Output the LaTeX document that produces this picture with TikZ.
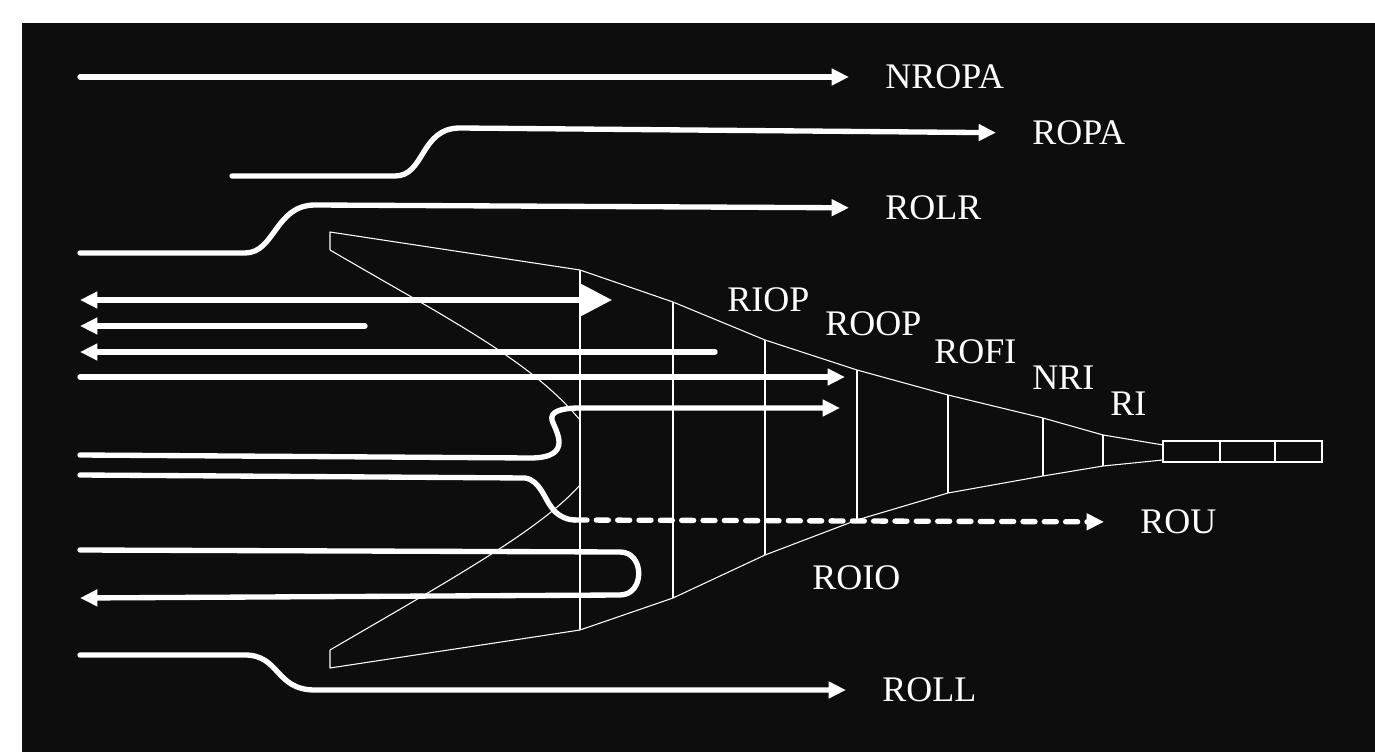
\documentclass[tikz,border=0pt]{standalone}
\usepackage{fontspec}
\setmainfont{Liberation Serif}
\usetikzlibrary{arrows.meta}
\begin{document}
\begin{tikzpicture}[x=0.75pt,y=-0.75pt,
  flow/.style={white,line width=4pt,line cap=round,line join=round,-{Triangle[length=13pt,width=12pt]}},
  flowb/.style={white,line width=4pt,line cap=round,line join=round},
  thin/.style={white,line width=0.8pt},
  lab/.style={white,font=\fontsize{27}{30}\selectfont,anchor=west,inner sep=0pt},
  tol/.style={shorten >=27pt}]
\useasboundingbox (0,0) rectangle (1375,752);
\fill[white] (0,0) rectangle (1375,752);
\fill[black!95] (22,23) rectangle (1375,752);
% funnel
\draw[thin,line join=round] (330,250) -- (330,232) -- (580,270) -- (673,302) -- (765,340) -- (857,370) -- (948,395) -- (1043,418) -- (1103,435) -- (1163,445)
  -- (1163,460) -- (1103,466) -- (1043,476) -- (948,493) -- (857,520) -- (765,555) -- (673,598) -- (580,630) -- (330,668) -- (330,650);
\draw[thin] (330,250) .. controls (450,320) and (530,360) .. (580,420);
\draw[thin] (330,650) .. controls (450,580) and (540,530) .. (580,485);
\foreach \x/\a/\b in {580/270/630,673/302/598,765/340/555,857/370/520,948/395/493,1043/418/476,1103/435/466}
  \draw[thin] (\x,\a) -- (\x,\b);
\draw[thin] (1163,441) rectangle (1322,462);
\draw[thin] (1220,441) -- (1220,462) (1275,441) -- (1275,462);
% labels
\node[lab] (nropa) at (885,77) {NROPA};
\node[lab] (ropa) at (1032,133) {ROPA};
\node[lab] (rolr) at (885,208) {ROLR};
\node[lab] (roll) at (882,690) {ROLL};
\node[lab] (rou) at (1140,522) {ROU};
\node[lab] at (727,300) {RIOP};
\node[lab] at (825,324) {ROOP};
\node[lab] at (934,352) {ROFI};
\node[lab] at (1032,378) {NRI};
\node[lab] at (1110,404) {RI};
\node[lab] at (812,578) {ROIO};
% flows
\coordinate (a1) at (80,77);
\draw[flow,tol] (a1) -- (nropa.west);
\draw[flow,tol] (232,176) -- (395,176) .. controls (425,176) and (420,128) .. (460,128) -- (ropa.west);
\draw[flow,tol] (80,253) -- (245,253) .. controls (275,253) and (275,205) .. (315,205) -- (rolr.west);
\draw[flowb,{Triangle[length=13pt,width=12pt]}-{Triangle[length=24pt,width=24pt]}] (80,300) -- (612,300);
\draw[flow] (365,326) -- (80,326);
\draw[flow] (715,352) -- (80,352);
\draw[flow] (80,377) -- (845,377);
\draw[flow] (80,455) -- (530,458) .. controls (575,458) and (555,430) .. (552,420) .. controls (550,412) and (560,408) .. (580,408) -- (840,408);
\draw[flowb] (80,475) -- (525,478) .. controls (540,480) and (545,500) .. (552,508) .. controls (556,514) and (565,520) .. (575,520);
\draw[flow,dash pattern=on 9pt off 7pt,tol] (575,520) -- (rou.west);
\draw[flow] (80,550) -- (620,552) .. controls (645,552) and (645,595) .. (620,595) -- (80,598);
\draw[flow,tol] (80,655) -- (245,655) .. controls (280,655) and (275,690) .. (315,690) -- (roll.west);
\end{tikzpicture}
\end{document}
